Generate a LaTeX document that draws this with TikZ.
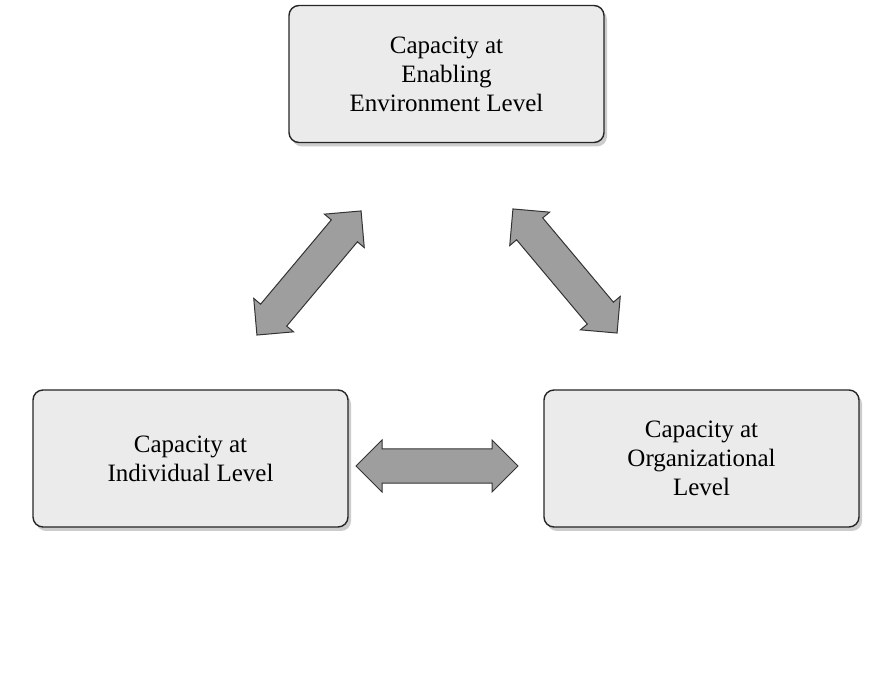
\documentclass[tikz,border=0pt]{standalone}
\usepackage{fontspec}
\setmainfont{Liberation Serif}
\usetikzlibrary{shapes.arrows,shadows}
\begin{document}
\begin{tikzpicture}[x=1pt,y=1pt,
  box/.style={draw=black!85,line width=1.4pt,rounded corners=10pt,fill=black!8,
    minimum width=315pt,minimum height=137pt,align=center,font=\fontsize{25}{29}\selectfont,
    drop shadow={shadow xshift=3pt,shadow yshift=-4pt,opacity=0.4}},
  darr/.style={double arrow,draw=black!80,line width=1pt,fill=black!38,
    minimum height=162pt,minimum width=52pt,double arrow head extend=5pt,inner sep=9pt}]
\useasboundingbox (0,0) rectangle (876,691);
\node[box] (top) at (446.5,617) {Capacity at\\Enabling\\Environment Level};
\node[box] (ind) at (190.5,232.5) {Capacity at\\Individual Level};
\node[box] (org) at (701.5,232.5) {Capacity at\\Organizational\\Level};
\node[darr,rotate=50] (a1) at (309,418) {};
\node[darr,rotate=-50] (a2) at (565,420) {};
\node[darr] (a3) at (437,225) {};
\end{tikzpicture}
\end{document}
